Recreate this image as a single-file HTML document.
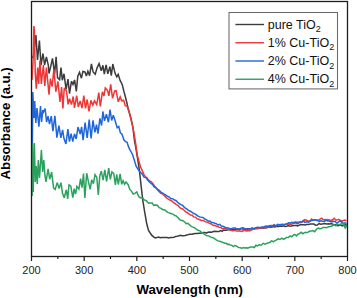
<!DOCTYPE html>
<html><head><meta charset="utf-8"><style>
html,body{margin:0;padding:0;background:#fff;}
body{width:357px;height:298px;overflow:hidden;position:relative;font-family:"Liberation Sans",sans-serif;}
svg{position:absolute;left:0;top:0;}
</style></head><body>
<svg width="357" height="298" viewBox="0 0 357 298" font-family="Liberation Sans, sans-serif">
<g fill="none" stroke-linejoin="miter" stroke-miterlimit="3" stroke-width="1.5">
<polyline stroke="#3c3c3c" points="32.0,58.0 33.5,56.0 35.9,35.0 37.5,60.0 39.4,40.5 41.0,65.0 43.0,53.5 44.6,65.0 46.4,57.0 48.3,65.0 49.0,73.5 50.7,66.6 52.5,58.4 54.6,74.2 56.1,56.7 57.5,77.6 59.6,79.6 61.0,67.6 62.3,80.2 64.0,73.8 66.1,89.3 68.0,79.2 69.5,93.7 71.5,81.2 73.0,84.5 74.6,79.9 76.3,91.4 77.8,76.2 79.5,72.3 81.4,78.2 82.9,71.5 84.9,71.9 86.4,76.0 87.9,71.3 89.6,75.6 91.4,63.8 93.1,72.0 95.2,74.3 97.2,67.6 99.1,63.6 101.3,70.7 102.9,65.3 104.3,74.2 106.1,64.8 107.8,73.8 109.9,66.6 111.3,75.6 112.8,64.0 115.0,73.1 116.8,76.8 118.2,74.3 120.1,80.4 122.2,84.5 124.0,91.8 125.3,96.5 126.8,102.5 128.1,108.3 129.4,112.7 130.9,118.2 132.8,126.7 134.5,140.9 135.7,147.2 137.7,159.2 139.4,170.4 141.2,186.7 142.8,200.3 144.7,212.1 146.6,223.0 148.4,230.2 150.2,233.0 151.9,235.4 153.6,236.8 155.3,237.9 156.8,237.6 158.5,237.1 160.3,237.8 161.9,237.4 163.5,237.6 165.5,237.6 167.2,237.6 168.5,237.9 170.5,237.4 172.2,237.4 174.1,237.2 175.6,236.4 177.2,236.2 179.1,235.8 180.4,235.2 181.9,235.7 183.5,235.7 185.3,235.5 186.6,235.0 187.8,234.7 189.6,234.2 190.9,234.3 192.3,234.2 193.6,233.8 195.3,233.6 197.2,233.5 198.6,233.2 200.2,233.2 201.6,232.9 203.3,232.6 205.1,232.4 206.4,233.1 207.9,232.3 209.9,231.9 211.7,232.2 213.3,231.6 215.1,231.3 216.9,231.4 218.9,231.6 220.7,230.5 222.2,231.3 223.7,230.0 225.0,230.2 226.2,230.3 228.0,229.9 229.4,229.4 231.1,229.7 232.7,229.8 234.3,229.5 236.1,229.2 237.8,229.0 239.3,229.6 241.1,228.6 242.8,228.9 244.4,228.9 245.6,229.4 247.4,228.8 249.0,228.8 250.6,228.7 252.5,228.6 254.0,228.9 256.0,228.1 257.7,228.4 259.0,228.3 260.3,228.1 261.8,227.7 263.6,228.2 265.2,227.7 266.7,227.8 268.3,227.2 270.0,227.2 271.6,227.3 273.0,226.5 274.8,227.0 276.8,226.3 278.8,226.5 280.6,226.1 281.8,226.4 283.1,225.9 284.9,226.4 286.8,226.2 288.1,225.6 289.8,226.2 291.1,226.1 292.7,225.8 294.0,225.6 296.0,225.4 297.3,226.0 299.1,225.3 300.7,224.4 301.9,224.7 303.8,224.8 305.3,225.0 306.6,224.4 308.5,224.4 310.4,224.0 312.0,223.9 313.8,224.1 315.6,225.2 317.2,225.0 319.0,223.6 320.5,224.2 322.1,224.0 323.6,223.8 325.5,223.7 327.0,223.9 328.5,223.7 330.2,224.0 331.4,223.6 333.2,224.4 334.6,225.1 335.8,224.6 337.5,225.8 339.1,225.5 340.4,224.8 342.2,226.0 343.8,225.3 345.4,224.8 346.5,225.0"/>
<polyline stroke="#F03535" points="32.0,80.0 33.1,60.0 33.9,26.0 34.4,30.0 35.2,72.0 36.3,88.7 37.7,67.6 38.7,84.0 39.9,60.5 41.3,84.0 43.4,65.0 44.8,86.0 46.4,67.6 48.0,84.0 49.0,94.8 50.4,78.6 52.1,86.7 53.9,69.4 55.8,91.8 57.9,81.4 60.0,102.0 61.6,87.1 62.9,108.5 64.3,87.8 66.5,91.0 68.1,104.4 69.5,98.8 71.5,104.6 73.2,96.5 74.5,107.9 76.7,95.7 78.3,107.0 80.2,100.9 82.0,108.1 83.8,95.6 85.5,108.4 87.2,99.5 89.0,111.3 90.9,100.3 92.8,105.2 94.5,100.7 96.7,104.6 98.8,92.7 100.3,106.5 102.4,91.8 104.0,95.9 105.3,88.0 107.5,90.4 108.9,95.8 110.7,84.3 112.5,98.2 114.7,90.9 116.1,90.7 118.3,101.8 120.2,96.9 121.7,100.7 123.6,100.1 125.2,105.7 127.1,106.3 129.1,112.0 130.6,117.9 132.3,125.0 133.8,131.9 135.6,143.1 137.4,155.8 139.2,162.2 140.5,166.8 142.3,170.9 144.0,174.6 145.5,176.8 147.0,177.8 148.3,179.8 150.0,181.1 151.5,182.0 153.1,183.9 154.6,186.1 156.1,188.0 157.5,189.8 159.0,191.4 160.8,193.3 162.4,193.7 163.9,195.1 165.8,197.1 167.3,198.5 169.0,199.7 170.5,200.3 172.0,201.1 173.3,202.3 174.9,203.4 176.3,204.6 178.0,205.3 179.5,207.3 181.2,208.5 182.7,209.0 184.1,210.2 185.7,211.8 187.0,212.5 188.6,213.7 190.5,215.0 192.3,215.2 193.6,216.9 195.5,217.1 196.9,218.7 198.7,219.2 200.0,219.8 201.7,220.6 203.5,220.6 205.2,221.6 206.8,222.1 208.3,222.6 209.9,223.5 211.5,223.9 213.3,225.5 214.8,225.3 216.6,226.3 217.9,226.5 219.1,227.4 220.9,227.6 222.9,228.8 224.1,228.3 226.0,228.7 227.6,229.4 229.0,229.8 231.0,230.3 232.8,230.7 234.7,230.4 236.5,231.1 238.2,231.0 240.1,231.0 242.0,231.4 243.4,230.5 244.8,230.3 246.5,231.0 248.3,230.8 249.8,230.8 251.1,230.4 252.8,229.2 254.3,229.1 255.8,228.5 257.3,228.7 258.7,228.1 260.2,228.5 261.9,227.3 263.2,227.9 264.4,227.3 266.2,227.9 267.7,226.5 269.1,227.3 270.8,225.6 272.4,225.6 273.9,225.3 275.7,225.7 277.3,225.4 279.0,224.7 280.5,225.1 282.3,225.0 284.3,224.9 285.8,224.2 287.2,224.0 288.5,224.1 289.9,224.6 291.4,224.3 293.4,223.4 295.3,223.0 296.9,222.1 298.8,222.3 300.6,221.5 301.9,222.1 303.2,221.7 304.8,219.7 306.4,220.2 308.3,221.0 310.0,221.2 311.6,219.0 313.1,220.3 314.7,219.9 316.7,220.0 318.5,220.5 320.3,218.9 321.8,218.1 323.1,219.7 324.4,219.7 325.7,220.6 327.6,219.5 329.5,219.9 331.0,220.6 332.7,219.8 334.2,218.3 335.7,220.0 337.2,220.1 338.8,219.3 340.4,220.6 342.4,221.1 343.9,220.2 345.1,220.0 346.5,221.0"/>
<polyline stroke="#1F66DA" points="32.3,151.0 32.8,92.0 34.0,118.0 34.7,101.0 35.8,123.0 37.0,108.0 38.9,126.7 40.5,106.0 41.6,122.0 42.8,110.0 43.0,113.3 45.1,108.5 46.6,122.1 48.0,116.1 49.5,124.2 51.3,116.1 52.9,131.1 54.9,115.8 56.9,137.7 58.9,125.7 60.9,137.8 62.6,129.8 64.0,138.6 65.9,144.0 67.9,129.2 69.4,141.7 71.1,133.6 72.8,141.7 74.5,133.8 76.2,138.9 78.0,127.0 80.2,134.0 81.6,126.8 83.1,140.1 85.1,122.6 87.2,137.8 89.2,119.6 91.1,138.4 93.0,120.3 94.9,132.4 96.5,124.7 98.0,133.7 99.9,118.3 101.6,125.5 102.9,111.5 104.5,120.9 106.4,114.1 108.4,122.2 110.0,109.7 111.7,120.5 113.3,115.3 115.3,121.2 117.2,127.7 118.8,126.5 120.4,132.9 122.0,134.2 124.0,140.1 125.5,141.6 127.1,142.2 128.4,146.4 129.7,149.4 131.2,152.0 132.5,154.5 134.5,160.7 136.1,166.1 138.1,169.4 139.4,171.3 140.7,172.6 142.2,174.0 144.0,177.2 145.9,177.6 147.6,180.0 149.4,182.0 151.1,183.3 152.7,184.6 154.0,186.8 155.2,187.2 157.1,188.9 158.9,190.1 160.7,191.8 162.5,193.0 164.1,194.1 165.9,195.1 167.3,196.1 169.3,197.2 170.8,198.6 172.6,198.7 174.5,200.0 175.9,200.5 177.5,202.3 179.4,203.6 180.8,204.7 182.4,205.2 184.2,207.1 185.8,208.5 187.1,209.2 188.4,210.4 189.8,211.0 191.5,211.9 193.1,213.2 194.5,213.7 196.1,214.7 197.9,216.2 199.7,216.9 201.5,217.3 202.9,217.5 204.7,218.9 206.3,219.7 208.2,221.0 209.8,221.1 211.3,222.3 212.8,222.4 214.7,223.2 216.3,223.6 218.1,225.0 219.7,224.3 221.5,226.0 222.9,226.3 224.9,227.1 226.3,228.1 227.5,227.8 229.0,228.2 230.4,228.9 231.8,228.4 233.7,228.1 235.5,228.0 236.8,229.2 238.4,228.9 239.8,228.7 241.2,228.3 242.8,227.9 244.6,228.5 246.3,229.3 247.7,229.6 249.1,228.7 250.4,228.9 252.1,227.8 253.5,228.6 254.7,228.2 256.6,227.6 258.1,227.3 259.7,227.4 261.1,227.2 262.9,226.9 264.1,226.8 266.1,226.0 267.8,226.5 269.6,225.7 271.1,227.0 272.7,226.0 274.3,224.8 276.0,226.0 277.5,224.3 279.3,224.7 281.0,224.4 282.5,224.3 284.4,224.6 286.0,224.0 287.3,223.7 288.6,222.8 290.4,223.1 291.6,222.3 293.2,222.7 295.1,221.8 297.1,223.8 298.6,223.2 300.2,221.9 301.9,221.9 303.2,220.5 304.8,222.4 306.7,221.7 308.6,222.2 310.5,220.8 311.9,220.5 313.9,220.1 315.3,219.8 316.6,220.5 317.9,220.2 319.2,221.5 321.1,220.7 323.1,221.4 324.4,221.7 325.8,219.7 327.5,221.1 329.2,221.1 330.6,221.7 332.2,221.7 333.6,221.3 335.4,221.6 336.8,223.0 338.4,222.1 340.3,220.9 341.8,222.4 343.2,223.6 345.1,222.8 346.4,223.5 346.5,223.4"/>
<polyline stroke="#2AA25E" points="32.1,196.0 32.5,143.5 33.2,192.0 34.4,143.0 35.3,182.0 36.2,166.0 37.3,184.0 38.3,160.0 39.5,178.0 41.4,150.0 42.6,172.0 43.8,160.0 45.0,176.0 46.0,181.8 48.1,168.8 49.7,179.2 51.6,172.2 53.6,188.0 55.2,189.4 57.2,182.6 59.1,188.4 61.0,182.7 62.5,193.3 64.2,197.8 66.3,189.8 67.7,198.9 69.0,184.9 70.8,186.1 72.8,197.7 74.2,188.7 75.5,194.1 76.9,186.4 78.9,189.2 80.6,178.6 82.0,187.7 83.5,173.5 84.9,197.9 86.7,173.2 88.4,181.7 90.2,189.3 91.7,179.7 93.4,183.7 95.0,174.6 96.8,177.3 98.3,194.9 99.8,175.7 101.3,171.2 103.1,180.2 104.8,169.9 106.6,181.3 108.7,168.0 110.3,179.3 111.9,171.8 113.7,173.3 115.4,184.8 116.7,174.3 118.3,184.5 120.1,173.9 121.7,184.3 123.1,180.8 124.5,184.1 126.0,182.0 128.2,184.7 129.8,189.4 131.4,191.1 133.3,194.0 134.9,193.4 136.8,192.0 138.7,196.5 139.9,197.5 141.5,197.9 142.7,198.0 144.3,199.9 146.3,200.7 147.5,202.1 148.8,203.2 150.7,202.9 152.3,203.0 153.6,205.3 155.4,204.9 157.3,205.2 159.2,207.7 161.1,208.4 162.8,209.7 164.0,209.8 165.6,210.4 167.0,211.9 168.4,212.6 170.3,213.2 171.5,213.7 173.3,214.3 174.7,215.5 176.1,215.9 177.8,217.5 179.6,219.6 181.2,220.3 182.9,220.7 184.8,222.0 186.1,223.7 187.9,223.3 189.8,225.1 191.7,226.7 193.0,227.1 194.9,228.0 196.6,229.5 198.1,230.3 199.9,230.8 201.5,232.4 202.8,232.9 204.6,234.5 206.2,235.4 207.4,235.7 209.3,236.1 211.1,237.4 212.5,237.6 214.3,238.4 216.2,239.9 218.0,240.9 219.7,241.3 221.6,242.0 223.1,242.5 224.8,243.2 226.3,243.3 227.9,244.6 229.1,244.2 230.3,245.1 231.6,245.2 233.4,246.5 234.8,245.5 236.3,245.9 238.3,247.4 240.2,247.7 242.0,248.3 243.4,247.5 244.7,247.9 246.4,247.8 247.8,248.1 249.6,247.3 251.2,246.9 253.2,247.0 254.4,247.6 255.9,245.3 257.3,246.0 259.2,244.8 261.2,245.2 263.2,243.3 264.5,244.0 265.7,244.1 267.1,243.2 268.7,242.8 270.1,242.3 271.7,240.7 273.2,241.9 274.6,240.9 276.2,240.1 278.0,238.8 280.0,239.5 281.6,238.2 283.3,239.2 284.8,238.8 286.4,237.5 288.3,237.6 290.2,235.9 291.8,236.8 293.7,234.7 294.9,234.5 296.4,235.9 297.7,234.4 299.7,233.5 301.1,232.3 302.8,233.7 304.5,232.6 305.7,232.2 306.9,232.6 308.1,232.1 309.4,231.3 311.2,231.1 312.7,230.6 314.7,231.7 316.6,229.1 318.4,228.1 319.8,228.7 321.3,228.6 323.1,227.4 325.1,227.4 326.7,227.8 328.3,226.7 329.6,226.8 331.4,226.2 333.2,225.1 334.5,225.1 335.8,225.8 337.6,224.3 339.5,224.8 341.3,224.0 343.2,223.5 345.2,228.0 346.9,225.7 347.0,224.0"/>
</g>
<rect x="31.5" y="1.5" width="316" height="255" fill="none" stroke="#1e1e1e" stroke-width="1.3"/>
<g stroke="#1e1e1e" stroke-width="1.2">
<line x1="31.50" y1="256.5" x2="31.50" y2="261"/><line x1="84.17" y1="256.5" x2="84.17" y2="261"/><line x1="136.83" y1="256.5" x2="136.83" y2="261"/><line x1="189.50" y1="256.5" x2="189.50" y2="261"/><line x1="242.17" y1="256.5" x2="242.17" y2="261"/><line x1="294.83" y1="256.5" x2="294.83" y2="261"/><line x1="347.50" y1="256.5" x2="347.50" y2="261"/><line x1="57.83" y1="256.5" x2="57.83" y2="259"/><line x1="110.50" y1="256.5" x2="110.50" y2="259"/><line x1="163.17" y1="256.5" x2="163.17" y2="259"/><line x1="215.83" y1="256.5" x2="215.83" y2="259"/><line x1="268.50" y1="256.5" x2="268.50" y2="259"/><line x1="321.17" y1="256.5" x2="321.17" y2="259"/></g>
<g font-size="11" fill="#222" text-anchor="middle"><text x="31.50" y="274">200</text><text x="84.17" y="274">300</text><text x="136.83" y="274">400</text><text x="189.50" y="274">500</text><text x="242.17" y="274">600</text><text x="294.83" y="274">700</text><text x="347.50" y="274">800</text></g>
<text x="189.7" y="294.1" font-size="13.3" font-weight="bold" text-anchor="middle" fill="#000">Wavelength (nm)</text>
<text transform="translate(10.1,123.4) rotate(-90)" font-size="13.3" font-weight="bold" text-anchor="middle" fill="#000">Absorbance (a.u.)</text>
<rect x="229.0" y="12.5" width="108.5" height="76.4" fill="#fff" stroke="#6a6a6a" stroke-width="1.05"/>
<line x1="235.4" y1="24.50" x2="264" y2="24.50" stroke="#3c3c3c" stroke-width="1.4"/><text x="267.8" y="28.5" font-size="12.5" fill="#111">pure TiO<tspan font-size="9" dy="3.5">2</tspan></text>
<line x1="235.4" y1="42.75" x2="264" y2="42.75" stroke="#F03535" stroke-width="1.4"/><text x="267.8" y="46.8" font-size="12.5" fill="#111">1% Cu-TiO<tspan font-size="9" dy="3.5">2</tspan></text>
<line x1="235.4" y1="61.00" x2="264" y2="61.00" stroke="#1F66DA" stroke-width="1.4"/><text x="267.8" y="65.0" font-size="12.5" fill="#111">2% Cu-TiO<tspan font-size="9" dy="3.5">2</tspan></text>
<line x1="235.4" y1="79.25" x2="264" y2="79.25" stroke="#2AA25E" stroke-width="1.4"/><text x="267.8" y="83.2" font-size="12.5" fill="#111">4% Cu-TiO<tspan font-size="9" dy="3.5">2</tspan></text>
</svg></body></html>
